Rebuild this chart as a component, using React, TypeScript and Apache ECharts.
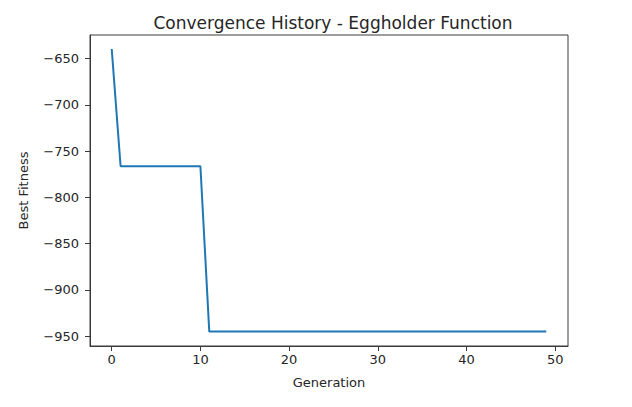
import React, { useEffect, useRef } from "react";
import * as echarts from "echarts";

const generations: number[] = [
  0, 1, 2, 3, 4, 5, 6, 7, 8, 9, 10, 11, 12, 13, 14, 15, 16, 17, 18, 19, 20, 21, 22, 23, 24,
  25, 26, 27, 28, 29, 30, 31, 32, 33, 34, 35, 36, 37, 38, 39, 40, 41, 42, 43, 44, 45, 46, 47, 48, 49,
];
const bestFitness: number[] = [
  -639.6, -766.4, -766.4, -766.4, -766.4, -766.4, -766.4, -766.4, -766.4, -766.4, -766.4,
  -945.2, -945.2, -945.2, -945.2, -945.2, -945.2, -945.2, -945.2, -945.2, -945.2,
  -945.2, -945.2, -945.2, -945.2, -945.2, -945.2, -945.2, -945.2, -945.2, -945.2,
  -945.2, -945.2, -945.2, -945.2, -945.2, -945.2, -945.2, -945.2, -945.2, -945.2,
  -945.2, -945.2, -945.2, -945.2, -945.2, -945.2, -945.2, -945.2, -945.2,
];
const xTicks: number[] = [0, 10, 20, 30, 40, 50];
const yTicks: number[] = [-950, -900, -850, -800, -750, -700, -650];

const FONT = "DejaVu Sans";
const TEXT = "#262626";
const AXIS = "#3a3a3a";

export default function App() {
  const ref = useRef<HTMLDivElement>(null);
  useEffect(() => {
    document.body.style.margin = "0";
    const chart = echarts.init(ref.current!, undefined, { renderer: "svg" });
    chart.setOption({
      animation: false,
      backgroundColor: "#ffffff",
      title: {
        text: "Convergence History - Eggholder Function",
        left: 328,
        top: 9,
        textAlign: "center",
        textStyle: { fontFamily: FONT, fontSize: 17, fontWeight: "normal", color: TEXT },
      },
      grid: {
        left: 90,
        top: 35,
        width: 478,
        height: 311,
        show: true,
        borderColor: AXIS,
        borderWidth: 1,
        backgroundColor: "transparent",
      },
      xAxis: {
        type: "value",
        min: -2.45,
        max: 51.45,
        name: "Generation",
        nameLocation: "middle",
        nameGap: 30,
        nameTextStyle: { fontFamily: FONT, fontSize: 13, color: TEXT },
        axisLine: { show: true, onZero: false, lineStyle: { color: AXIS, width: 1 } },
        axisTick: { show: true, length: 5, customValues: xTicks, lineStyle: { color: AXIS } },
        axisLabel: {
          customValues: xTicks,
          fontFamily: FONT,
          fontSize: 13,
          color: TEXT,
          margin: 7,
        },
        splitLine: { show: false },
      },
      yAxis: {
        type: "value",
        min: -960.8,
        max: -624.5,
        name: "Best Fitness",
        nameLocation: "middle",
        nameGap: 60,
        nameRotate: 90,
        nameTextStyle: { fontFamily: FONT, fontSize: 13, color: TEXT },
        axisLine: { show: true, onZero: false, lineStyle: { color: AXIS, width: 1 } },
        axisTick: { show: true, length: 5, customValues: yTicks, lineStyle: { color: AXIS } },
        axisLabel: {
          customValues: yTicks,
          fontFamily: FONT,
          fontSize: 13,
          color: TEXT,
          margin: 11,
          formatter: (v: number) => String(v).replace("-", "\u2212"),
        },
        splitLine: { show: false },
      },
      series: [
        {
          type: "line",
          data: generations.map((g, i) => [g, bestFitness[i]]),
          showSymbol: false,
          symbol: "none",
          lineStyle: { color: "#1f77b4", width: 2 },
        },
      ],
    });
    return () => chart.dispose();
  }, []);
  return <div ref={ref} style={{ width: 632, height: 407 }} />;
}
